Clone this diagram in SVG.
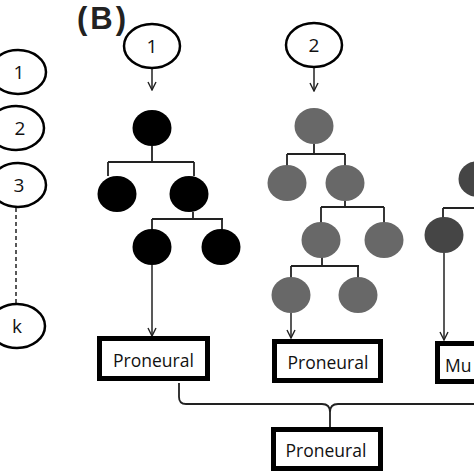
<svg xmlns="http://www.w3.org/2000/svg" width="474" height="474" viewBox="0 0 474 474">
<defs>
<marker id="arr" viewBox="0 0 10 10" refX="9" refY="5" markerWidth="10" markerHeight="10" markerUnits="userSpaceOnUse" orient="auto">
<path d="M1,1 L9,5 L1,9" fill="none" stroke="#222" stroke-width="1.4"/>
</marker>
<style>
.oval{fill:#fff;stroke:#000;stroke-width:2.5}
.num{font-family:"Open Sans","Liberation Sans",sans-serif;font-size:19px;fill:#111;text-anchor:middle}
.box{fill:#fff;stroke:#000;stroke-width:5}
.lbl{font-family:"Open Sans","Liberation Sans",sans-serif;font-size:17.5px;fill:#111;text-anchor:middle}
.ln{fill:none;stroke:#222;stroke-width:1.8}
.arrow{fill:none;stroke:#222;stroke-width:1.5;marker-end:url(#arr)}
.blk{fill:#000}
.gry{fill:#686868}
.drk{fill:#454545}
</style>
</defs>
<rect width="474" height="474" fill="#fff"/>
<text x="77" y="29" font-family="Liberation Sans, Arial, sans-serif" font-weight="bold" font-size="31" letter-spacing="3" fill="#222">(B)</text>

<g id="left-column">
<ellipse class="oval" cx="18" cy="72" rx="28" ry="22"/><text class="num" x="19" y="79">1</text>
<ellipse class="oval" cx="16" cy="128" rx="28" ry="22"/><text class="num" x="20" y="135">2</text>
<ellipse class="oval" cx="18" cy="185" rx="28" ry="22"/><text class="num" x="19" y="192">3</text>
<line x1="16" y1="208" x2="16" y2="304" stroke="#222" stroke-width="1.5" stroke-dasharray="4 3"/>
<ellipse class="oval" cx="17" cy="326" rx="28" ry="22"/><text class="num" x="17" y="333">k</text>
</g>

<g id="connectors">
<line class="arrow" x1="152" y1="68" x2="152" y2="90"/>
<line class="arrow" x1="314" y1="67" x2="314" y2="91"/>
<path class="ln" d="M152,146 V162 M108,162 H194 M108,162 V176 M194,162 V176"/>
<path class="ln" d="M193,212 V219 M152,219 H223 M152,219 V230 M222,219 V230"/>
<line class="arrow" x1="152" y1="265" x2="152" y2="336"/>
<path class="ln" d="M314,144 V154 M287,154 H345 M287,154 V166 M345,154 V166"/>
<path class="ln" d="M345,201 V207 M321,207 H384 M321,207 V224 M384,207 V224"/>
<path class="ln" d="M322,257 V266 M291,266 H359 M291,266 V278 M358,266 V278"/>
<line class="arrow" x1="291" y1="313" x2="291" y2="338"/>
<path class="ln" d="M443,208 H474 M443,208 V218"/>
<line class="arrow" x1="444" y1="253" x2="444" y2="340"/>
<path class="ln" d="M179,383 V397 Q179,404 186,404 H322 Q330,404 330,412 V427 M474,404 H338 Q330,404 330,412"/>
</g>

<g id="tree1">
<ellipse class="oval" cx="152" cy="46" rx="28" ry="22"/><text class="num" x="152" y="53">1</text>
<ellipse class="blk" cx="152" cy="128" rx="19.5" ry="18"/>
<ellipse class="blk" cx="117" cy="194" rx="19.5" ry="18"/>
<ellipse class="blk" cx="189" cy="194" rx="19.5" ry="18"/>
<ellipse class="blk" cx="152" cy="247" rx="19.5" ry="18"/>
<ellipse class="blk" cx="221" cy="247" rx="19.5" ry="18"/>
</g>
<g id="box1"><rect class="box" x="99.5" y="338.5" width="108" height="40"/><text class="lbl" x="153.5" y="367">Proneural</text></g>

<g id="tree2">
<ellipse class="oval" cx="314" cy="45" rx="28" ry="22"/><text class="num" x="314" y="52">2</text>
<ellipse class="gry" cx="314" cy="126" rx="19.5" ry="18"/>
<ellipse class="gry" cx="287" cy="183" rx="19.5" ry="18"/>
<ellipse class="gry" cx="345" cy="183" rx="19.5" ry="18"/>
<ellipse class="gry" cx="321" cy="240" rx="19.5" ry="18"/>
<ellipse class="gry" cx="384" cy="240" rx="19.5" ry="18"/>
<ellipse class="gry" cx="291" cy="295" rx="19.5" ry="18"/>
<ellipse class="gry" cx="358" cy="295" rx="19.5" ry="18"/>
</g>
<g id="box2"><rect class="box" x="274.5" y="341.5" width="106" height="39"/><text class="lbl" x="328" y="369">Proneural</text></g>

<g id="tree3">
<ellipse class="drk" cx="478" cy="179" rx="19.5" ry="18"/>
<ellipse class="drk" cx="444" cy="235" rx="19.5" ry="18"/>
</g>
<g id="box3"><rect class="box" x="437.5" y="343.5" width="60" height="38"/><text class="lbl" x="445" y="372" style="text-anchor:start">Mu</text></g>

<g id="box4"><rect class="box" x="273.5" y="429.5" width="107" height="39"/><text class="lbl" x="326" y="457">Proneural</text></g>
</svg>
